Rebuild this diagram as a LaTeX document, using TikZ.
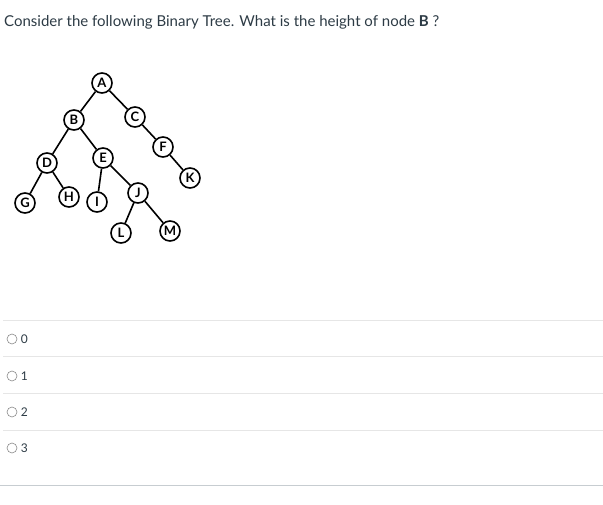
\documentclass[tikz,border=0pt]{standalone}
\usepackage{fontspec}
\setmainfont{Lato}
\definecolor{txt}{HTML}{2D3B45}
\definecolor{sep}{HTML}{E6E6E6}
\definecolor{sepdark}{HTML}{C7CDD1}
\definecolor{radio}{HTML}{8A8A8A}
\begin{document}
\begin{tikzpicture}[x=1pt,y=-1pt,
  tn/.style={circle,draw=black,line width=1.6pt,minimum size=20pt,inner sep=0pt,font=\fontsize{13}{13}\selectfont\bfseries},
  te/.style={line width=1.6pt,black},
  opt/.style={anchor=west,text=txt,font=\fontsize{12}{14}\selectfont},
  rad/.style={circle,draw=radio,line width=0.6pt,minimum size=10pt,inner sep=0pt}]
\useasboundingbox (0,0) rectangle (603,505);
\node[anchor=west,text=txt,font=\fontsize{15}{18}\selectfont,inner sep=0pt] (q) at (4,22) {Consider the following Binary Tree. What is the height of node \textbf{B} ?};
% tree
\node[tn] (A) at (102,83) {A};
\node[tn] (B) at (74,120) {B};
\node[tn] (C) at (135,117) {C};
\node[tn] (D) at (47,163) {D};
\node[tn] (E) at (103,158) {E};
\node[tn] (F) at (163,147) {F};
\node[tn] (K) at (190,178) {K};
\node[tn] (G) at (25,203) {G};
\node[tn] (H) at (69,197) {H};
\node[tn] (I) at (97,202) {I};
\node[tn] (J) at (138,193) {J};
\node[tn] (L) at (121,233) {L};
\node[tn] (M) at (170,231) {M};
\draw[te] (A)--(B); \draw[te] (A)--(C);
\draw[te] (B)--(D); \draw[te] (B)--(E);
\draw[te] (C)--(F); \draw[te] (F)--(K);
\draw[te] (D)--(G); \draw[te] (D)--(H);
\draw[te] (E)--(I); \draw[te] (E)--(J);
\draw[te] (J)--(L); \draw[te] (J)--(M);
% options
\draw[sep,line width=1pt] (3,321) -- (603,321);
\draw[sep,line width=1pt] (3,357) -- (603,357);
\draw[sep,line width=1pt] (3,393) -- (603,393);
\draw[sep,line width=1pt] (3,430) -- (603,430);
\draw[sepdark,line width=1pt] (0,485) -- (603,485);
\node[rad] (r0) at (12,339) {};
\node[rad] (r1) at (12,376) {};
\node[rad] (r2) at (12,412) {};
\node[rad] (r3) at (12,448) {};
\node[opt] (o0) at (r0.east) {0};
\node[opt] (o1) at (r1.east) {1};
\node[opt] (o2) at (r2.east) {2};
\node[opt] (o3) at (r3.east) {3};
\end{tikzpicture}
\end{document}
